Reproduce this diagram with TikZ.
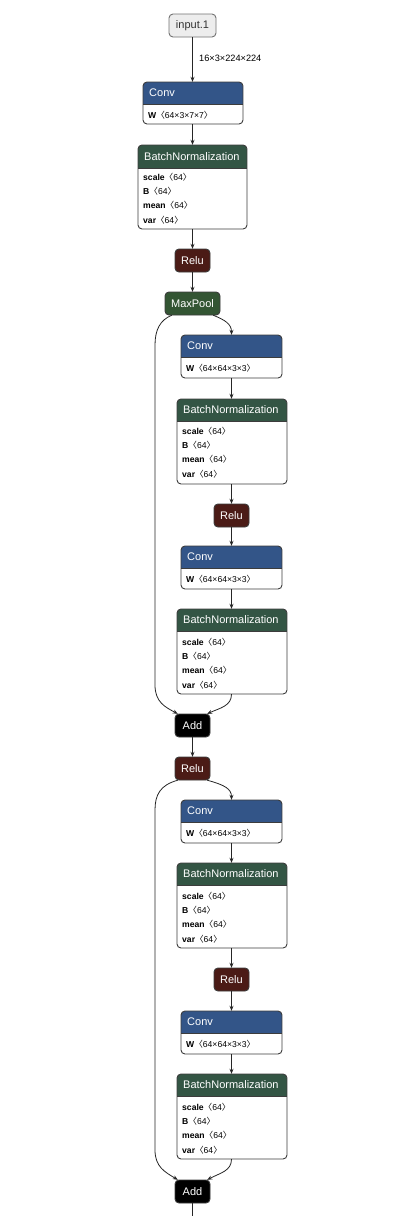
\documentclass[tikz,border=0pt]{standalone}
\usepackage{fontspec}
\setmainfont{Liberation Sans}
\newfontfamily\cjkf{Noto Sans CJK SC}
\usetikzlibrary{arrows.meta,fit}
\definecolor{convc}{RGB}{51,85,136}
\definecolor{normc}{RGB}{51,85,68}
\definecolor{poolc}{RGB}{51,85,51}
\definecolor{reluc}{RGB}{75,27,22}
\definecolor{bordc}{RGB}{60,60,60}
\newcommand{\lbr}{{\cjkf 〈}}
\newcommand{\rbr}{{\cjkf 〉}}
\tikzset{
  headtxt/.style={text=white, font=\fontsize{11}{13}\selectfont, inner sep=0pt},
  attr/.style={text=black, font=\fontsize{8.6}{10}\selectfont, inner sep=0pt, anchor=west},
  edge/.style={draw=black!85, line width=0.8pt, -{Stealth[length=5pt,width=4pt]}},
  plain/.style={draw=black!85, line width=0.8pt},
}
% name, x1, y1, x2, y2, header bottom, colour, title
\newcommand{\opbox}[8]{%
  \begin{scope}
    \clip[rounded corners=4pt] (#2,#3) rectangle (#4,#5);
    \fill[white] (#2,#3) rectangle (#4,#5);
    \fill[#7] (#2,#3) rectangle (#4,#6);
  \end{scope}
  \draw[line width=0.7pt, draw=bordc] (#2,#6) -- (#4,#6);
  \draw[rounded corners=4pt, line width=0.9pt, draw=bordc] (#2,#3) rectangle (#4,#5);
  \node[fit={(#2,#3) (#4,#5)}, inner sep=0pt] (#1) {};
  \node[headtxt, anchor=west] at (#2+6, {(#3+#6)/2}) {#8};
}
% name, x1, y1, x2, y2, colour, title
\newcommand{\opsmall}[7]{%
  \draw[rounded corners=4pt, line width=0.9pt, draw=bordc, fill=#6] (#2,#3) rectangle (#4,#5);
  \node[fit={(#2,#3) (#4,#5)}, inner sep=0pt] (#1) {};
  \node[headtxt] at (#1.center) {#7};
}
% x1, first line y
\newcommand{\bnattrs}[2]{%
  \node[attr] at (#1+5, #2) {\textbf{scale}\lbr64\rbr};
  \node[attr] at (#1+5, #2+14) {\textbf{B}\lbr64\rbr};
  \node[attr] at (#1+5, #2+28.5) {\textbf{mean}\lbr64\rbr};
  \node[attr] at (#1+5, #2+43) {\textbf{var}\lbr64\rbr};
}
\begin{document}
\begin{tikzpicture}[x=1pt,y=-1pt]
\useasboundingbox (0,0) rectangle (415,1216);
\fill[white] (0,0) rectangle (415,1216);

% input
\draw[rounded corners=4pt, line width=0.9pt, draw=black!55, fill=black!7] (169,14) rectangle (216,37);
\node[fit={(169,14) (216,37)}, inner sep=0pt] (inp) {};
\node[font=\fontsize{11}{13}\selectfont, text=black!80, inner sep=0pt] at (inp.center) {input.1};

\opbox{conv1}{143}{82}{243}{124}{104}{convc}{Conv}
\node[attr] at (148,115) {\textbf{W}\lbr64×3×7×7\rbr};

\opbox{bn1}{138}{145}{247}{229}{168}{normc}{BatchNormalization}
\bnattrs{138}{177}

\opsmall{relu1}{175}{249}{210}{272}{reluc}{Relu}
\opsmall{mp}{165}{292}{220}{315}{poolc}{MaxPool}

\opbox{conv2}{181}{335}{282}{378}{357}{convc}{Conv}
\node[attr] at (186,368) {\textbf{W}\lbr64×64×3×3\rbr};
\opbox{bn2}{177}{399}{287}{484}{421}{normc}{BatchNormalization}
\bnattrs{177}{431}
\opsmall{relu2}{214}{504}{249}{527}{reluc}{Relu}
\opbox{conv3}{181}{546}{282}{589}{568}{convc}{Conv}
\node[attr] at (186,579) {\textbf{W}\lbr64×64×3×3\rbr};
\opbox{bn3}{177}{609}{287}{694}{631}{normc}{BatchNormalization}
\bnattrs{177}{642}
\opsmall{add1}{175}{714}{210}{737}{black}{Add}

\opsmall{relu3}{175}{757}{210}{780}{reluc}{Relu}
\opbox{conv4}{181}{800}{282}{843}{822}{convc}{Conv}
\node[attr] at (186,833) {\textbf{W}\lbr64×64×3×3\rbr};
\opbox{bn4}{177}{863}{287}{948}{885}{normc}{BatchNormalization}
\bnattrs{177}{896}
\opsmall{relu4}{214}{968}{249}{991}{reluc}{Relu}
\opbox{conv5}{181}{1011}{282}{1054}{1033}{convc}{Conv}
\node[attr] at (186,1044) {\textbf{W}\lbr64×64×3×3\rbr};
\opbox{bn5}{177}{1074}{287}{1159}{1096}{normc}{BatchNormalization}
\bnattrs{177}{1107}
\opsmall{add2}{175}{1180}{210}{1203}{black}{Add}
\coordinate (out) at (192.5,1216);

% main chain
\draw[edge] (inp.south) -- (inp.south |- conv1.north);
\node[font=\fontsize{9.2}{11}\selectfont, inner sep=0pt, anchor=west] (lbl) at (199,58) {16×3×224×224};
\draw[edge] (inp.south |- conv1.south) -- (inp.south |- bn1.north);
\draw[edge] (inp.south |- bn1.south) -- (relu1.north);
\draw[edge] (relu1.south) -- (relu1.south |- mp.north);

% block 1
\draw[edge] ([xshift=-7pt]mp.south east) .. controls (225,320) and (231.5,324) .. (conv2.north);
\draw[edge] (conv2.south) -- (conv2.south |- bn2.north);
\draw[edge] (conv2.south |- bn2.south) -- (conv2.south |- relu2.north);
\draw[edge] (conv2.south |- relu2.south) -- (conv2.south |- conv3.north);
\draw[edge] (conv3.south) -- (conv3.south |- bn3.north);
\draw[edge] (conv3.south |- bn3.south) .. controls (231.5,706) and (220,708) .. ([xshift=-3pt]add1.north east);
\draw[edge] ([xshift=7pt]mp.south west) .. controls (160,320) and (155,330) .. (155,345) -- (155,685) .. controls (155,702) and (165,707) .. ([xshift=3pt]add1.north west);
\draw[edge] (add1.south) -- (add1.south |- relu3.north);

% block 2
\draw[edge] ([xshift=-3pt]relu3.south east) .. controls (225,785) and (231.5,789) .. (conv4.north);
\draw[edge] (conv4.south) -- (conv4.south |- bn4.north);
\draw[edge] (conv4.south |- bn4.south) -- (conv4.south |- relu4.north);
\draw[edge] (conv4.south |- relu4.south) -- (conv4.south |- conv5.north);
\draw[edge] (conv5.south) -- (conv5.south |- bn5.north);
\draw[edge] (conv5.south |- bn5.south) .. controls (231.5,1171) and (220,1173) .. ([xshift=-3pt]add2.north east);
\draw[edge] ([xshift=3pt]relu3.south west) .. controls (160,785) and (155,795) .. (155,810) -- (155,1150) .. controls (155,1167) and (165,1172) .. ([xshift=3pt]add2.north west);
\draw[plain] (add2.south) -- (out);
\end{tikzpicture}
\end{document}
